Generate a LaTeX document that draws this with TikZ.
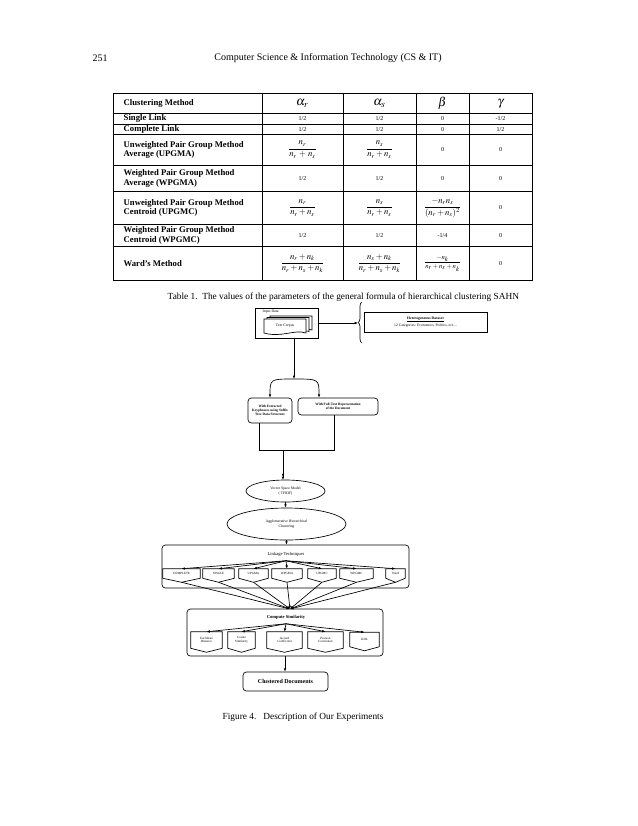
\documentclass[tikz,border=0pt]{standalone}
\usepackage{amsmath}
\usepackage{mathptmx}
\usepackage[no-math]{fontspec}
\setmainfont{Liberation Serif}
\usetikzlibrary{shapes.geometric,arrows.meta,decorations.pathreplacing,positioning}

\tikzset{
  hdr/.style={font=\fontsize{7.5}{9}\selectfont},
  capt/.style={anchor=west, font=\fontsize{7}{8}\selectfont},
  meth/.style={anchor=west, align=left, font=\fontsize{6.5}{7}\selectfont\bfseries},
  cell/.style={font=\fontsize{4.5}{5}\selectfont},
  frac/.style={font=\fontsize{6.5}{7}\selectfont},
  greek/.style={font=\fontsize{9.5}{11}\selectfont, inner sep=1pt},
  ln/.style={line width=0.5pt},
  frbox/.style={draw, ln, rounded corners=2.5pt, align=center, inner sep=0pt},
  ovl/.style={draw, ln, ellipse, align=center, inner sep=0pt},
  pent/.style={align=center, inner sep=0pt, minimum height=6.75pt,
    font=\fontsize{2.4}{2.8}\selectfont,
    append after command={\pgfextra{\draw[ln] (\tikzlastnode.north west) -- (\tikzlastnode.north east)
      -- (\tikzlastnode.south east) -- ([yshift=-3pt]\tikzlastnode.south) -- (\tikzlastnode.south west) -- cycle;}}},
  small/.style={font=\fontsize{2.8}{3.3}\selectfont},
  arr/.style={-{Latex[length=2.5pt,width=2pt]}, ln},
}

\begin{document}
\begin{tikzpicture}[x=0.75pt, y=-0.75pt]
\useasboundingbox (0,0) rectangle (638,826);

% page header
\node[hdr, anchor=west] (pgno) at (88,58) {251};
\node[hdr] (journal) at (328,58) {Computer Science \& Information Technology (CS \& IT)};

% table
\foreach \x in {262,343,416,469} \draw[thin] (\x,93.3) -- (\x,280);
\foreach \y in {113.3,124,134.3,165,191.7,224,246.7} \draw[thin] (113,\y) -- (532,\y);
\draw[semithick] (113,93.3) rectangle (532,280);

\node[meth] (m0) at (119,103.3) {Clustering Method};
\node[greek] (ar) at (302.5,103.3) {$\alpha_{r}$};
\node[greek] (as) at (379.5,103.3) {$\alpha_{s}$};
\node[greek] (be) at (442.5,103.3) {$\beta$};
\node[greek] (ga) at (500.5,103.3) {$\gamma$};

\node[meth] (m1) at (119,118.7) {Single Link};
\node[meth] (m2) at (119,129.2) {Complete Link};
\node[meth] (m3) at (119,149.7) {Unweighted Pair Group Method\\Average (UPGMA)};
\node[meth] (m4) at (119,178.3) {Weighted Pair Group Method\\Average (WPGMA)};
\node[meth] (m5) at (119,207.8) {Unweighted Pair Group Method\\Centroid (UPGMC)};
\node[meth] (m6) at (119,235.3) {Weighted Pair Group Method\\Centroid (WPGMC)};
\node[meth] (m7) at (119,263.3) {Ward's Method};

% simple values
\foreach \y/\a/\b/\c/\d in {118.7/1\slash2/1\slash2/0/-1\slash2, 129.2/1\slash2/1\slash2/0/1\slash2,
    149.7///0/0, 178.3/1\slash2/1\slash2/0/0, 207.8////0, 235.3/1\slash2/1\slash2/-1\slash4/0, 263.3////0}{
  \node[cell] at (302.5,\y) {\a};
  \node[cell] at (379.5,\y) {\b};
  \node[cell] at (442.5,\y) {\c};
  \node[cell] at (500.5,\y) {\d};
}
\node[frac] (f1) at (302.5,149.7) {$\dfrac{n_r}{n_r\,+\,n_s}$};
\node[frac] (f2) at (379.5,149.7) {$\dfrac{n_s}{n_r+n_s}$};
\node[frac] (f3) at (302.5,207.8) {$\dfrac{n_r}{n_r+n_s}$};
\node[frac] (f4) at (379.5,207.8) {$\dfrac{n_s}{n_r+n_s}$};
\node[frac] (f5) at (442.5,207.8) {$\dfrac{-n_r n_s}{(n_r+n_s)^2}$};
\node[frac] (f6) at (302.5,263.3) {$\dfrac{n_r+n_k}{n_r+n_s+n_k}$};
\node[frac] (f7) at (379.5,263.3) {$\dfrac{n_s+n_k}{n_r+n_s+n_k}$};
\node[frac, font=\fontsize{5}{6}\selectfont] (f8) at (442.5,263.3) {$\dfrac{-n_k}{n_r+n_s+n_k}$};

\node[capt] (tcap) at (163,297) {Table 1.\ \ The values of the parameters of the general formula of hierarchical clustering SAHN};

% figure
\node[draw, ln, minimum width=47.25pt, minimum height=22.5pt] (input) at (286.5,323) {};
\node[small, anchor=west] (inlbl) at (258,311.5) {Input Data};
\foreach \d in {6,3,0}
  \draw[ln, fill=white] (264+\d,319-\d/2) -- (306+\d,319-\d/2) -- (306+\d,333-\d/2)
    .. controls (294+\d,329-\d/2) and (282+\d,338-\d/2) .. (264+\d,333-\d/2) -- cycle;
\node[small] (corpus) at (285,326) {Text Corpus};

\node[draw, ln, minimum width=92.25pt, minimum height=15pt, small, align=center] (het) at (425.5,322)
  {\textbf{\underline{Heterogeneous Dataset}}\\[1.5pt]12 Categories: Economics, Politics, ect....};
\draw[ln, decorate, decoration={brace, amplitude=3pt}] (362,343) -- (362,302);
\coordinate (brc) at (358,323);
\draw[arr] (input.east) -- (brc);

\coordinate (split) at (294,379);
\coordinate (rdrop) at (319,390);
\node[frbox, small, font=\fontsize{2.6}{3.1}\selectfont\bfseries, minimum width=33pt, minimum height=18.75pt] (keyp) at (270,410.5)
  {With Extracted\\Keyphrases using Suffix\\Tree Data Structure};
\node[frbox, small, font=\fontsize{2.6}{3.1}\selectfont\bfseries, minimum width=60pt, minimum height=12.75pt] (full) at (338,406.5)
  {With Full-Text Representation\\of the Document};
\draw[arr] (input.south -| split) -- (split);
\draw[arr] (split) .. controls (270,379) .. (keyp.north);
\draw[arr] (split) .. controls (319,379) .. (rdrop |- full.north);

\node[ovl, small, minimum width=59.25pt, minimum height=16.5pt] (vsm) at (285.5,491) {Vector Space Model\\( TFIDF)};
\node[ovl, small, minimum width=89.25pt, minimum height=24pt] (ahc) at (286.5,524) {Agglomerative Hierarchical\\Clustering};
\coordinate (jl) at (259,450);
\coordinate (jr) at (334,450);
\coordinate (join) at (283,450);
\draw[ln] (jl |- keyp.south) -- (jl) -- (jr) -- (jr |- full.south);
\draw[ln, -{Latex[length=2.2pt,width=2pt]Latex[length=2.2pt,width=2pt]}] (join) -- (join |- vsm.north);
\draw[arr] (vsm.south) -- (vsm.south |- ahc.north);

% linkage techniques
\node[frbox, minimum width=185.25pt, minimum height=32.25pt] (link) at (285.5,566.5) {};
\draw[arr] (ahc.south) -- (ahc.south |- link.north);
\node[font=\fontsize{3.4}{4}\selectfont] (lt) at (286,554) {Linkage Techniques};
\node[pent, minimum width=27.75pt] (l1) at (181.5,573.5) {COMPLETE};
\node[pent, minimum width=23.25pt] (l2) at (218.5,573.5) {SINGLE};
\node[pent, minimum width=21.75pt] (l3) at (253.5,573.5) {UPGMA};
\node[pent, minimum width=22.5pt]  (l4) at (287,573.5) {WPGMA};
\node[pent, minimum width=21pt]    (l5) at (322,573.5) {UPGMC};
\node[pent, minimum width=24.75pt] (l6) at (356.5,573.5) {WPGMC};
\node[pent, minimum width=14.25pt] (l7) at (395.5,573.5) {Ward};
\foreach \n in {l1,l2,l3,l4,l5,l6,l7} \draw[arr] (lt.south) -- (\n.north);

% compute similarity
\node[frbox, minimum width=147pt, minimum height=35.25pt] (comp) at (285,632.5) {};
\coordinate (conv) at (290,609);
\foreach \n in {l1,l2,l3,l4,l5,l6,l7} \draw[arr] ([yshift=-3pt]\n.south) -- (conv);
\node[font=\fontsize{3.4}{4}\selectfont\bfseries] (ct) at (286,617) {Compute Similarity};
\node[pent, minimum width=23.25pt, minimum height=12pt] (s1) at (206.5,640) {Euclidean\\Distance};
\node[pent, minimum width=20.25pt, minimum height=12pt] (s2) at (241.5,640) {Cosine\\Similarity};
\node[pent, minimum width=26.25pt, minimum height=12pt] (s3) at (284.5,640) {Jaccard\\Coefficient};
\node[pent, minimum width=26.25pt, minimum height=12pt] (s4) at (325.5,640) {Pearson\\Correlation};
\node[pent, minimum width=21.75pt, minimum height=10.5pt] (s5) at (364.5,639.5) {KDL};
\foreach \n in {s1,s2,s3,s4,s5} \draw[arr] (ct.south) -- (\n.north);

\node[frbox, font=\fontsize{4.5}{5}\selectfont\bfseries, minimum width=63.75pt, minimum height=14.25pt] (clust) at (285.5,681.5) {Clustered Documents};
\draw[arr] (comp.south) -- (comp.south |- clust.north);

\node[capt] (fcap) at (218,717) {Figure 4.\ \ \ Description of Our Experiments};
\end{tikzpicture}
\end{document}
